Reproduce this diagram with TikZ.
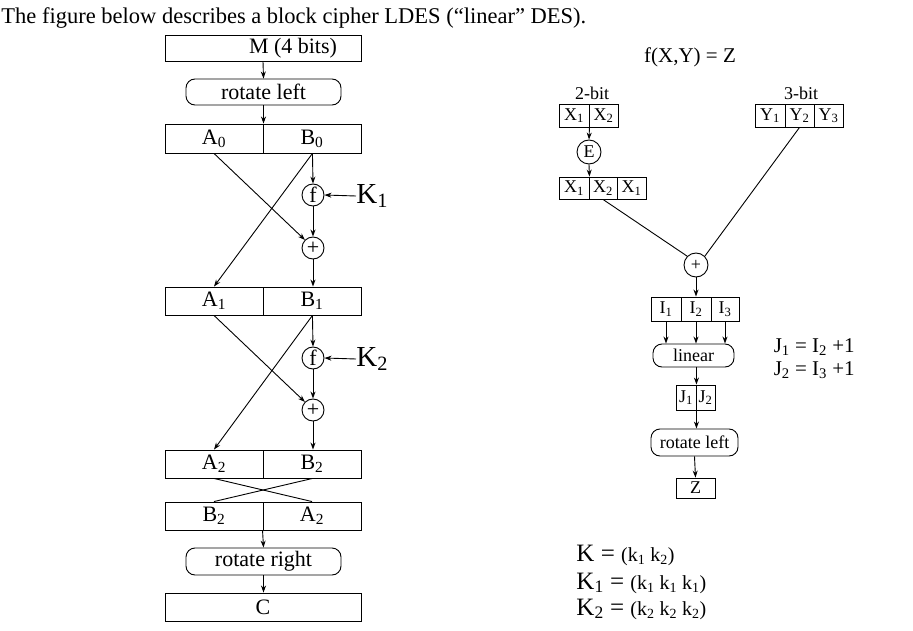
\documentclass[tikz,border=0pt]{standalone}
\usepackage{fontspec}
\setmainfont{Liberation Serif}
\usetikzlibrary{arrows.meta}
\begin{document}
\begin{tikzpicture}[x=1pt,y=-1pt,line width=0.9pt,
  bx/.style={draw,minimum height=#1,inner sep=0pt},
  rnd/.style={draw,rounded corners=9pt,inner sep=0pt},
  circ/.style={draw,circle,minimum size=22pt,inner sep=0pt},
  ar/.style={-{Stealth[length=7pt,width=5pt]}},
  big/.style={font=\fontsize{22}{24}\selectfont},
  sm/.style={font=\fontsize{18}{20}\selectfont}]
\useasboundingbox (0,0) rectangle (913,631);
\node[anchor=base west,font=\fontsize{22.5}{24}\selectfont,inner sep=0pt] (title) at (1,24) {The figure below describes a block cipher LDES (“linear” DES).};
% left
\node[bx=26pt,minimum width=196pt,big] (M) at (263,48) {\hspace{60pt}M (4 bits)};
\node[rnd,minimum width=155pt,minimum height=26pt,big] (rl) at (263.5,92) {rotate left};
\node[bx=29pt,minimum width=98pt,big] (A0) at (214,138.5) {A\textsubscript{0}};
\node[bx=29pt,minimum width=98pt,big] (B0) at (312,138.5) {B\textsubscript{0}};
\node[circ,big] (f1) at (313,195) {f};
\node[anchor=west,inner sep=0pt,font=\fontsize{29}{31}\selectfont] (K1) at (356,196) {K\textsubscript{1}};
\node[circ,big] (p1) at (313,248) {+};
\node[bx=28pt,minimum width=98pt,big] (A1) at (214,301) {A\textsubscript{1}};
\node[bx=28pt,minimum width=98pt,big] (B1) at (312,301) {B\textsubscript{1}};
\node[circ,big] (f2) at (313,358) {f};
\node[anchor=west,inner sep=0pt,font=\fontsize{29}{31}\selectfont] (K2) at (356,359) {K\textsubscript{2}};
\node[circ,big] (p2) at (313,410) {+};
\node[bx=28pt,minimum width=98pt,big] (A2) at (214,464) {A\textsubscript{2}};
\node[bx=28pt,minimum width=98pt,big] (B2) at (312,464) {B\textsubscript{2}};
\node[bx=28pt,minimum width=98pt,big] (B2b) at (214,516) {B\textsubscript{2}};
\node[bx=28pt,minimum width=98pt,big] (A2b) at (312,516) {A\textsubscript{2}};
\node[rnd,minimum width=155pt,minimum height=27pt,big] (rr) at (263.5,561.5) {rotate right};
\node[bx=28pt,minimum width=196pt,big] (C) at (263,607) {C};
\draw[ar] (M.south) -- (rl.north);
\draw[ar] (rl.south) -- (rl.south|-A0.north);
\draw[ar] (A0.south) -- (p1.north west);
\draw[ar] (B0.south east) ++(-49,0) coordinate (b0) -- (f1.north);
\draw[ar] (b0) -- (A1.north);
\draw[ar] (K1.west) -- (f1.east);
\draw[ar] (f1) -- (p1);
\draw[ar] (p1) -- (p1|-B1.north);
\draw[ar] (A1.south) -- (p2.north west);
\draw[ar] (B1.south east) ++(-49,0) coordinate (b1) -- (f2.north);
\draw[ar] (b1) -- (A2.north);
\draw[ar] (K2.west) -- (f2.east);
\draw[ar] (f2) -- (p2);
\draw[ar] (p2) -- (p2|-B2.north);
\draw (A2.south) -- (A2b.north);
\draw (B2.south east) ++(-49,0) -- (B2b.north);
\draw[ar] (A2b.south west) -- (rr.north);
\draw[ar] (rr.south) -- (rr.south|-C.north);
% right
\node[font=\fontsize{21}{23}\selectfont] (fx) at (690,57) {f(X,Y) = Z};
\node[sm] (b2) at (592,93) {2-bit};
\node[sm] (b3) at (801,93) {3-bit};
\node[bx=23pt,minimum width=30pt,sm] (X1) at (574,115.5) {X\textsubscript{1}};
\node[bx=23pt,minimum width=29pt,sm] (X2) at (603.5,115.5) {X\textsubscript{2}};
\node[circ,minimum size=24pt,sm] (E) at (589,152) {E};
\node[bx=22pt,minimum width=30pt,sm] (Xa) at (574,188) {X\textsubscript{1}};
\node[bx=22pt,minimum width=28pt,sm] (Xb) at (603,188) {X\textsubscript{2}};
\node[bx=22pt,minimum width=29pt,sm] (Xc) at (631.5,188) {X\textsubscript{1}};
\node[bx=23pt,minimum width=30pt,sm] (Y1) at (770,115.5) {Y\textsubscript{1}};
\node[bx=23pt,minimum width=29pt,sm] (Y2) at (799.5,115.5) {Y\textsubscript{2}};
\node[bx=23pt,minimum width=29pt,sm] (Y3) at (828.5,115.5) {Y\textsubscript{3}};
\node[circ,minimum size=24pt,sm] (P) at (696,265) {+};
\node[bx=24pt,minimum width=30pt,sm] (I1) at (666,309) {I\textsubscript{1}};
\node[bx=24pt,minimum width=30pt,sm] (I2) at (696,309) {I\textsubscript{2}};
\node[bx=24pt,minimum width=28pt,sm] (I3) at (725,309) {I\textsubscript{3}};
\node[rnd,minimum width=81pt,minimum height=23pt,sm] (lin) at (693.5,355.5) {linear};
\node[bx=25pt,minimum width=20pt,sm,inner sep=0pt] (J1) at (686,397.5) {J\textsubscript{1}};
\node[bx=25pt,minimum width=19pt,sm,inner sep=0pt] (J2) at (705.5,397.5) {J\textsubscript{2}};
\node[rnd,minimum width=87pt,minimum height=27pt,sm] (rl2) at (694.5,442.5) {rotate left};
\node[bx=20pt,minimum width=39pt,sm] (Z) at (695.5,488) {Z};
\node[anchor=west,font=\fontsize{21}{23}\selectfont] (j1) at (770,347) {J\textsubscript{1} = I\textsubscript{2} +1};
\node[anchor=west,font=\fontsize{21}{23}\selectfont] (j2) at (770,370) {J\textsubscript{2} = I\textsubscript{3} +1};
\draw[ar] (X1.south east) -- (E.north);
\draw[ar] (E.south) -- (Xa.north east);
\draw (Xb.south) -- (P.north west);
\draw (Y2.south) -- (P.north east);
\draw[ar] (P.south) -- (I2.north);
\draw[ar] (I1.south) -- (I1|-lin.north);
\draw[ar] (I2.south) -- (I2|-lin.north);
\draw[ar] (I3.south) -- (I3|-lin.north);
\draw[ar] (J1.north east) ++(0,-18) -- (J1.north east);
\draw[ar] (J1.south east) ++(0,-25) -- (J1.east|-rl2.north);
\draw[ar] (rl2.south) -- (Z.north);
\node[anchor=west,font=\fontsize{25}{27}\selectfont,inner sep=0pt] (k) at (576,555) {K = {\fontsize{20}{22}\selectfont(k\textsubscript{1} k\textsubscript{2})}};
\node[anchor=west,font=\fontsize{25}{27}\selectfont,inner sep=0pt] (k1) at (576,583) {K\textsubscript{1} = {\fontsize{20}{22}\selectfont(k\textsubscript{1} k\textsubscript{1} k\textsubscript{1})}};
\node[anchor=west,font=\fontsize{25}{27}\selectfont,inner sep=0pt] (k2) at (576,609) {K\textsubscript{2} = {\fontsize{20}{22}\selectfont(k\textsubscript{2} k\textsubscript{2} k\textsubscript{2})}};
\end{tikzpicture}
\end{document}
